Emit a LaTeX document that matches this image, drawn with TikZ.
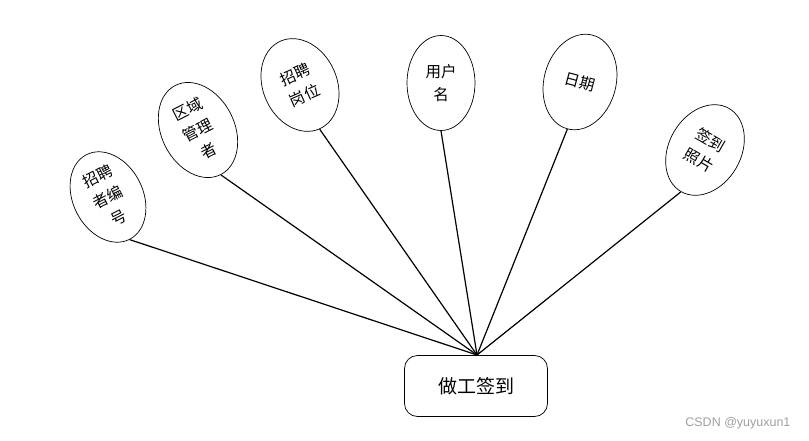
\documentclass[tikz,border=0pt]{standalone}
\usepackage{fontspec}
\setmainfont{Liberation Sans}
\newfontfamily\cjk{Noto Sans CJK SC}
\usetikzlibrary{shapes.geometric}
\tikzset{
  attr/.style={ellipse, draw=black, line width=0.7pt, fill=white, align=center,
    inner sep=0pt, font=\cjk\fontsize{15.5}{23}\selectfont},
  ent/.style={rectangle, rounded corners=13pt, draw=black, line width=0.7pt, fill=white,
    minimum width=143pt, minimum height=61pt, font=\cjk\fontsize{19}{22}\selectfont},
  link/.style={draw=black, line width=1.2pt},
  wmark/.style={text=gray!75, font=\fontsize{12.5}{14}\selectfont, anchor=east}
}
\begin{document}
\begin{tikzpicture}[x=1pt,y=1pt]
\useasboundingbox (0,0) rectangle (809,440);
\node[ent] (r) at (476,54) {做工签到};
\coordinate (hub) at (477,85);
\node[attr, minimum width=70pt, minimum height=95pt, rotate=27] (e1) at (108,243) {招聘\\者编\\号};
\node[attr, minimum width=73pt, minimum height=100pt, rotate=27] (e2) at (198,310) {区域\\管理\\者};
\node[attr, minimum width=74pt, minimum height=96pt, rotate=24] (e3) at (300,355) {招聘\\岗位};
\node[attr, minimum width=68pt, minimum height=95pt] (e4) at (441,357) {用户\\名};
\node[attr, minimum width=72pt, minimum height=97pt, rotate=-15] (e5) at (580,358) {日期};
\node[attr, minimum width=72pt, minimum height=96pt, rotate=-30] (e6) at (705,290) {签到\\照片};
\foreach \e in {e1,e2,e3,e4,e5,e6} \draw[link] (\e.south) -- (hub);
\node[wmark] (wm) at (794,17) {CSDN @yuyuxun1};
\end{tikzpicture}
\end{document}
